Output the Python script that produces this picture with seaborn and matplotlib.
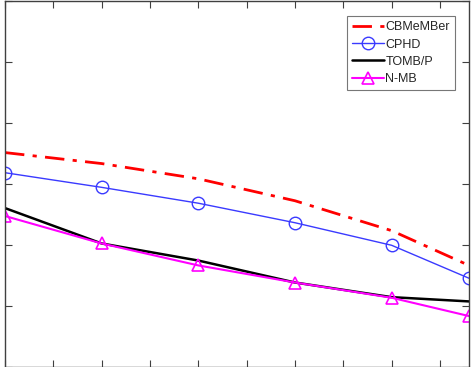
import numpy as np
import pandas as pd
import matplotlib
matplotlib.use("Agg")
import matplotlib.pyplot as plt
import seaborn as sns

# data (axis units: x tick spacing = 1, y tick spacing = 1)
x_vals = [0, 2, 4, 6, 8, 9.6]
cbmember = [3.52, 3.34, 3.09, 2.73, 2.24, 1.67]
cphd = [3.19, 2.95, 2.69, 2.37, 2.00, 1.46]
tomb_p = [2.61, 2.03, 1.75, 1.39, 1.15, 1.08]
n_mb = [2.48, 2.03, 1.67, 1.39, 1.14, 0.84]

sns.set_style("white")
plt.rcParams["font.family"] = ["Liberation Sans", "DejaVu Sans"]

fig = plt.figure(figsize=(4.74, 3.67), dpi=100)
ax = fig.add_axes([5 / 474, -0.3 / 367, 464 / 474, 366 / 367])

sns.lineplot(x=x_vals, y=cbmember, ax=ax, color="#ff0000", linestyle=(0, (7, 3, 1.5, 3)),
             linewidth=2, label="CBMeMBer")
sns.lineplot(x=x_vals, y=cphd, ax=ax, color="#3a3aff", linewidth=1,
             marker="o", markersize=9, markerfacecolor="none",
             markeredgecolor="#3a3aff", markeredgewidth=1, label="CPHD")
sns.lineplot(x=x_vals, y=tomb_p, ax=ax, color="black", linewidth=1.8,
             label="TOMB/P")
sns.lineplot(x=x_vals, y=n_mb, ax=ax, color="#ff00ff", linewidth=1.5,
             marker="^", markersize=9, markerfacecolor="none",
             markeredgecolor="#ff00ff", markeredgewidth=1.2, label="N-MB")

ax.set_xlim(0, 9.6)
ax.set_ylim(0, 6)
ax.set_xticks(np.arange(0, 10, 1))
ax.set_yticks(np.arange(0, 7, 1))
ax.tick_params(direction="in", length=5, width=0.8, color="#404040",
               top=True, right=True, bottom=True, left=True,
               labelbottom=False, labelleft=False)
for s in ax.spines.values():
    s.set_color("#404040")
    s.set_linewidth(1)

leg = ax.legend(loc="upper right", bbox_to_anchor=(450 / 464, 1 - 15 / 366),
                fontsize=9, frameon=True, fancybox=False, handlelength=2.5,
                borderpad=0.4, labelspacing=0.42, handletextpad=0.15,
                borderaxespad=0)
leg.get_frame().set_edgecolor("#555555")
leg.get_frame().set_linewidth(0.8)

fig.savefig("out.png", dpi=100)
